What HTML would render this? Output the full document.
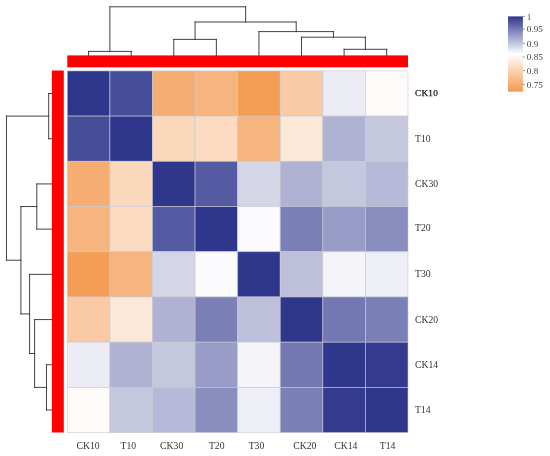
<!DOCTYPE html><html><head><meta charset="utf-8"><title>Heatmap</title><style>html,body{margin:0;padding:0;background:#fff}svg{display:block}</style></head><body><svg width="550" height="456" viewBox="0 0 550 456">
<defs><linearGradient id="lg" x1="0" y1="0" x2="0" y2="1"><stop offset="0" stop-color="#2f378d"/><stop offset="0.5" stop-color="#ffffff"/><stop offset="1" stop-color="#f3994f"/></linearGradient></defs>
<rect width="550" height="456" fill="#fff"/>
<rect x="67.3" y="55.4" width="340.7" height="11.9" fill="#fe0000"/>
<rect x="51.9" y="70.5" width="11.9" height="362.0" fill="#fe0000"/>
<rect x="67.30" y="70.90" width="42.59" height="45.21" fill="#2f378d" stroke="#c8c8d2" stroke-opacity="0.75" stroke-width="0.8"/>
<rect x="109.89" y="70.90" width="42.59" height="45.21" fill="#464d99" stroke="#c8c8d2" stroke-opacity="0.75" stroke-width="0.8"/>
<rect x="152.47" y="70.90" width="42.59" height="45.21" fill="#f5ad71" stroke="#c8c8d2" stroke-opacity="0.75" stroke-width="0.8"/>
<rect x="195.06" y="70.90" width="42.59" height="45.21" fill="#f6b47e" stroke="#c8c8d2" stroke-opacity="0.75" stroke-width="0.8"/>
<rect x="237.65" y="70.90" width="42.59" height="45.21" fill="#f39d55" stroke="#c8c8d2" stroke-opacity="0.75" stroke-width="0.8"/>
<rect x="280.24" y="70.90" width="42.59" height="45.21" fill="#f9caa4" stroke="#c8c8d2" stroke-opacity="0.75" stroke-width="0.8"/>
<rect x="322.82" y="70.90" width="42.59" height="45.21" fill="#ebecf4" stroke="#c8c8d2" stroke-opacity="0.75" stroke-width="0.8"/>
<rect x="365.41" y="70.90" width="42.59" height="45.21" fill="#fffbf8" stroke="#c8c8d2" stroke-opacity="0.75" stroke-width="0.8"/>
<rect x="67.30" y="116.11" width="42.59" height="45.21" fill="#464d99" stroke="#c8c8d2" stroke-opacity="0.75" stroke-width="0.8"/>
<rect x="109.89" y="116.11" width="42.59" height="45.21" fill="#2f378d" stroke="#c8c8d2" stroke-opacity="0.75" stroke-width="0.8"/>
<rect x="152.47" y="116.11" width="42.59" height="45.21" fill="#fad8bb" stroke="#c8c8d2" stroke-opacity="0.75" stroke-width="0.8"/>
<rect x="195.06" y="116.11" width="42.59" height="45.21" fill="#fbdbc1" stroke="#c8c8d2" stroke-opacity="0.75" stroke-width="0.8"/>
<rect x="237.65" y="116.11" width="42.59" height="45.21" fill="#f6b47e" stroke="#c8c8d2" stroke-opacity="0.75" stroke-width="0.8"/>
<rect x="280.24" y="116.11" width="42.59" height="45.21" fill="#fce8d7" stroke="#c8c8d2" stroke-opacity="0.75" stroke-width="0.8"/>
<rect x="322.82" y="116.11" width="42.59" height="45.21" fill="#afb2d3" stroke="#c8c8d2" stroke-opacity="0.75" stroke-width="0.8"/>
<rect x="365.41" y="116.11" width="42.59" height="45.21" fill="#c5c7df" stroke="#c8c8d2" stroke-opacity="0.75" stroke-width="0.8"/>
<rect x="67.30" y="161.33" width="42.59" height="45.21" fill="#f5ad71" stroke="#c8c8d2" stroke-opacity="0.75" stroke-width="0.8"/>
<rect x="109.89" y="161.33" width="42.59" height="45.21" fill="#fad8bb" stroke="#c8c8d2" stroke-opacity="0.75" stroke-width="0.8"/>
<rect x="152.47" y="161.33" width="42.59" height="45.21" fill="#2f378d" stroke="#c8c8d2" stroke-opacity="0.75" stroke-width="0.8"/>
<rect x="195.06" y="161.33" width="42.59" height="45.21" fill="#555ba2" stroke="#c8c8d2" stroke-opacity="0.75" stroke-width="0.8"/>
<rect x="237.65" y="161.33" width="42.59" height="45.21" fill="#d4d6e8" stroke="#c8c8d2" stroke-opacity="0.75" stroke-width="0.8"/>
<rect x="280.24" y="161.33" width="42.59" height="45.21" fill="#afb2d3" stroke="#c8c8d2" stroke-opacity="0.75" stroke-width="0.8"/>
<rect x="322.82" y="161.33" width="42.59" height="45.21" fill="#c5c7df" stroke="#c8c8d2" stroke-opacity="0.75" stroke-width="0.8"/>
<rect x="365.41" y="161.33" width="42.59" height="45.21" fill="#b6b9d7" stroke="#c8c8d2" stroke-opacity="0.75" stroke-width="0.8"/>
<rect x="67.30" y="206.54" width="42.59" height="45.21" fill="#f6b47e" stroke="#c8c8d2" stroke-opacity="0.75" stroke-width="0.8"/>
<rect x="109.89" y="206.54" width="42.59" height="45.21" fill="#fbdbc1" stroke="#c8c8d2" stroke-opacity="0.75" stroke-width="0.8"/>
<rect x="152.47" y="206.54" width="42.59" height="45.21" fill="#555ba2" stroke="#c8c8d2" stroke-opacity="0.75" stroke-width="0.8"/>
<rect x="195.06" y="206.54" width="42.59" height="45.21" fill="#2f378d" stroke="#c8c8d2" stroke-opacity="0.75" stroke-width="0.8"/>
<rect x="237.65" y="206.54" width="42.59" height="45.21" fill="#fbfbfd" stroke="#c8c8d2" stroke-opacity="0.75" stroke-width="0.8"/>
<rect x="280.24" y="206.54" width="42.59" height="45.21" fill="#7a7fb6" stroke="#c8c8d2" stroke-opacity="0.75" stroke-width="0.8"/>
<rect x="322.82" y="206.54" width="42.59" height="45.21" fill="#989cc7" stroke="#c8c8d2" stroke-opacity="0.75" stroke-width="0.8"/>
<rect x="365.41" y="206.54" width="42.59" height="45.21" fill="#898ebe" stroke="#c8c8d2" stroke-opacity="0.75" stroke-width="0.8"/>
<rect x="67.30" y="251.75" width="42.59" height="45.21" fill="#f39d55" stroke="#c8c8d2" stroke-opacity="0.75" stroke-width="0.8"/>
<rect x="109.89" y="251.75" width="42.59" height="45.21" fill="#f6b47e" stroke="#c8c8d2" stroke-opacity="0.75" stroke-width="0.8"/>
<rect x="152.47" y="251.75" width="42.59" height="45.21" fill="#d4d6e8" stroke="#c8c8d2" stroke-opacity="0.75" stroke-width="0.8"/>
<rect x="195.06" y="251.75" width="42.59" height="45.21" fill="#fbfbfd" stroke="#c8c8d2" stroke-opacity="0.75" stroke-width="0.8"/>
<rect x="237.65" y="251.75" width="42.59" height="45.21" fill="#2f378d" stroke="#c8c8d2" stroke-opacity="0.75" stroke-width="0.8"/>
<rect x="280.24" y="251.75" width="42.59" height="45.21" fill="#bec0db" stroke="#c8c8d2" stroke-opacity="0.75" stroke-width="0.8"/>
<rect x="322.82" y="251.75" width="42.59" height="45.21" fill="#f4f4f9" stroke="#c8c8d2" stroke-opacity="0.75" stroke-width="0.8"/>
<rect x="365.41" y="251.75" width="42.59" height="45.21" fill="#eeeef6" stroke="#c8c8d2" stroke-opacity="0.75" stroke-width="0.8"/>
<rect x="67.30" y="296.96" width="42.59" height="45.21" fill="#f9caa4" stroke="#c8c8d2" stroke-opacity="0.75" stroke-width="0.8"/>
<rect x="109.89" y="296.96" width="42.59" height="45.21" fill="#fce8d7" stroke="#c8c8d2" stroke-opacity="0.75" stroke-width="0.8"/>
<rect x="152.47" y="296.96" width="42.59" height="45.21" fill="#afb2d3" stroke="#c8c8d2" stroke-opacity="0.75" stroke-width="0.8"/>
<rect x="195.06" y="296.96" width="42.59" height="45.21" fill="#7a7fb6" stroke="#c8c8d2" stroke-opacity="0.75" stroke-width="0.8"/>
<rect x="237.65" y="296.96" width="42.59" height="45.21" fill="#bec0db" stroke="#c8c8d2" stroke-opacity="0.75" stroke-width="0.8"/>
<rect x="280.24" y="296.96" width="42.59" height="45.21" fill="#2f378d" stroke="#c8c8d2" stroke-opacity="0.75" stroke-width="0.8"/>
<rect x="322.82" y="296.96" width="42.59" height="45.21" fill="#7378b2" stroke="#c8c8d2" stroke-opacity="0.75" stroke-width="0.8"/>
<rect x="365.41" y="296.96" width="42.59" height="45.21" fill="#7a7fb6" stroke="#c8c8d2" stroke-opacity="0.75" stroke-width="0.8"/>
<rect x="67.30" y="342.18" width="42.59" height="45.21" fill="#ebecf4" stroke="#c8c8d2" stroke-opacity="0.75" stroke-width="0.8"/>
<rect x="109.89" y="342.18" width="42.59" height="45.21" fill="#afb2d3" stroke="#c8c8d2" stroke-opacity="0.75" stroke-width="0.8"/>
<rect x="152.47" y="342.18" width="42.59" height="45.21" fill="#c5c7df" stroke="#c8c8d2" stroke-opacity="0.75" stroke-width="0.8"/>
<rect x="195.06" y="342.18" width="42.59" height="45.21" fill="#989cc7" stroke="#c8c8d2" stroke-opacity="0.75" stroke-width="0.8"/>
<rect x="237.65" y="342.18" width="42.59" height="45.21" fill="#f4f4f9" stroke="#c8c8d2" stroke-opacity="0.75" stroke-width="0.8"/>
<rect x="280.24" y="342.18" width="42.59" height="45.21" fill="#7378b2" stroke="#c8c8d2" stroke-opacity="0.75" stroke-width="0.8"/>
<rect x="322.82" y="342.18" width="42.59" height="45.21" fill="#2f378d" stroke="#c8c8d2" stroke-opacity="0.75" stroke-width="0.8"/>
<rect x="365.41" y="342.18" width="42.59" height="45.21" fill="#343b8f" stroke="#c8c8d2" stroke-opacity="0.75" stroke-width="0.8"/>
<rect x="67.30" y="387.39" width="42.59" height="45.21" fill="#fffbf8" stroke="#c8c8d2" stroke-opacity="0.75" stroke-width="0.8"/>
<rect x="109.89" y="387.39" width="42.59" height="45.21" fill="#c5c7df" stroke="#c8c8d2" stroke-opacity="0.75" stroke-width="0.8"/>
<rect x="152.47" y="387.39" width="42.59" height="45.21" fill="#b6b9d7" stroke="#c8c8d2" stroke-opacity="0.75" stroke-width="0.8"/>
<rect x="195.06" y="387.39" width="42.59" height="45.21" fill="#898ebe" stroke="#c8c8d2" stroke-opacity="0.75" stroke-width="0.8"/>
<rect x="237.65" y="387.39" width="42.59" height="45.21" fill="#eeeef6" stroke="#c8c8d2" stroke-opacity="0.75" stroke-width="0.8"/>
<rect x="280.24" y="387.39" width="42.59" height="45.21" fill="#7a7fb6" stroke="#c8c8d2" stroke-opacity="0.75" stroke-width="0.8"/>
<rect x="322.82" y="387.39" width="42.59" height="45.21" fill="#343b8f" stroke="#c8c8d2" stroke-opacity="0.75" stroke-width="0.8"/>
<rect x="365.41" y="387.39" width="42.59" height="45.21" fill="#2f378d" stroke="#c8c8d2" stroke-opacity="0.75" stroke-width="0.8"/>
<path d="M88.59 55.40L88.59 51.40M131.18 55.40L131.18 51.40M88.59 51.40L131.18 51.40M173.77 55.40L173.77 39.40M216.36 55.40L216.36 39.40M173.77 39.40L216.36 39.40M344.12 55.40L344.12 49.30M386.71 55.40L386.71 49.30M344.12 49.30L386.71 49.30M301.53 55.40L301.53 37.20M365.41 49.30L365.41 37.20M301.53 37.20L365.41 37.20M258.94 55.40L258.94 31.60M333.47 37.20L333.47 31.60M258.94 31.60L333.47 31.60M195.06 39.40L195.06 22.00M296.21 31.60L296.21 22.00M195.06 22.00L296.21 22.00M109.89 51.40L109.89 6.80M245.64 22.00L245.64 6.80M109.89 6.80L245.64 6.80" stroke="#2e2e2e" stroke-width="0.9" fill="none" stroke-linecap="square"/>
<path d="M51.80 93.51L48.70 93.51M51.80 138.72L48.70 138.72M48.70 93.51L48.70 138.72M51.80 183.93L36.80 183.93M51.80 229.14L36.80 229.14M36.80 183.93L36.80 229.14M51.80 364.78L46.50 364.78M51.80 409.99L46.50 409.99M46.50 364.78L46.50 409.99M51.80 319.57L34.60 319.57M46.50 387.39L34.60 387.39M34.60 319.57L34.60 387.39M51.80 274.36L29.60 274.36M34.60 353.48L29.60 353.48M29.60 274.36L29.60 353.48M36.80 206.54L20.90 206.54M29.60 313.92L20.90 313.92M20.90 206.54L20.90 313.92M48.70 116.11L6.50 116.11M20.90 260.23L6.50 260.23M6.50 116.11L6.50 260.23" stroke="#2e2e2e" stroke-width="0.9" fill="none" stroke-linecap="square"/>
<g font-family="Liberation Serif, serif" font-size="9.7" fill="#333">
<text x="415" y="95.6" fill="#111" stroke="#111" stroke-width="0.25" font-size="9.2" letter-spacing="0.3">CK10</text>
<text x="88.1" y="448.6" text-anchor="middle">CK10</text>
<text x="415" y="141.7">T10</text>
<text x="128.4" y="448.6" text-anchor="middle">T10</text>
<text x="415" y="186.7">CK30</text>
<text x="171.7" y="448.6" text-anchor="middle">CK30</text>
<text x="415" y="230.7">T20</text>
<text x="216.7" y="448.6" text-anchor="middle">T20</text>
<text x="415" y="277.2">T30</text>
<text x="256.5" y="448.6" text-anchor="middle">T30</text>
<text x="415" y="323.1">CK20</text>
<text x="304.8" y="448.6" text-anchor="middle">CK20</text>
<text x="415" y="368.2">CK14</text>
<text x="345.8" y="448.6" text-anchor="middle">CK14</text>
<text x="415" y="413.4">T14</text>
<text x="387.6" y="448.6" text-anchor="middle">T14</text>
</g>
<rect x="508" y="16.4" width="14.9" height="75.3" fill="url(#lg)"/>
<g font-family="Liberation Serif, serif" font-size="9.2" fill="#444">
<path d="M522.9 16.4H524.8" stroke="#444" stroke-width="0.6"/>
<text x="526.8" y="19.5">1</text>
<path d="M522.9 29.2H524.8" stroke="#444" stroke-width="0.6"/>
<text x="526.8" y="32.3">0.95</text>
<path d="M522.9 43.4H524.8" stroke="#444" stroke-width="0.6"/>
<text x="526.8" y="46.5">0.9</text>
<path d="M522.9 57.0H524.8" stroke="#444" stroke-width="0.6"/>
<text x="526.8" y="60.1">0.85</text>
<path d="M522.9 70.6H524.8" stroke="#444" stroke-width="0.6"/>
<text x="526.8" y="73.7">0.8</text>
<path d="M522.9 84.4H524.8" stroke="#444" stroke-width="0.6"/>
<text x="526.8" y="87.5">0.75</text>
</g>
</svg></body></html>
